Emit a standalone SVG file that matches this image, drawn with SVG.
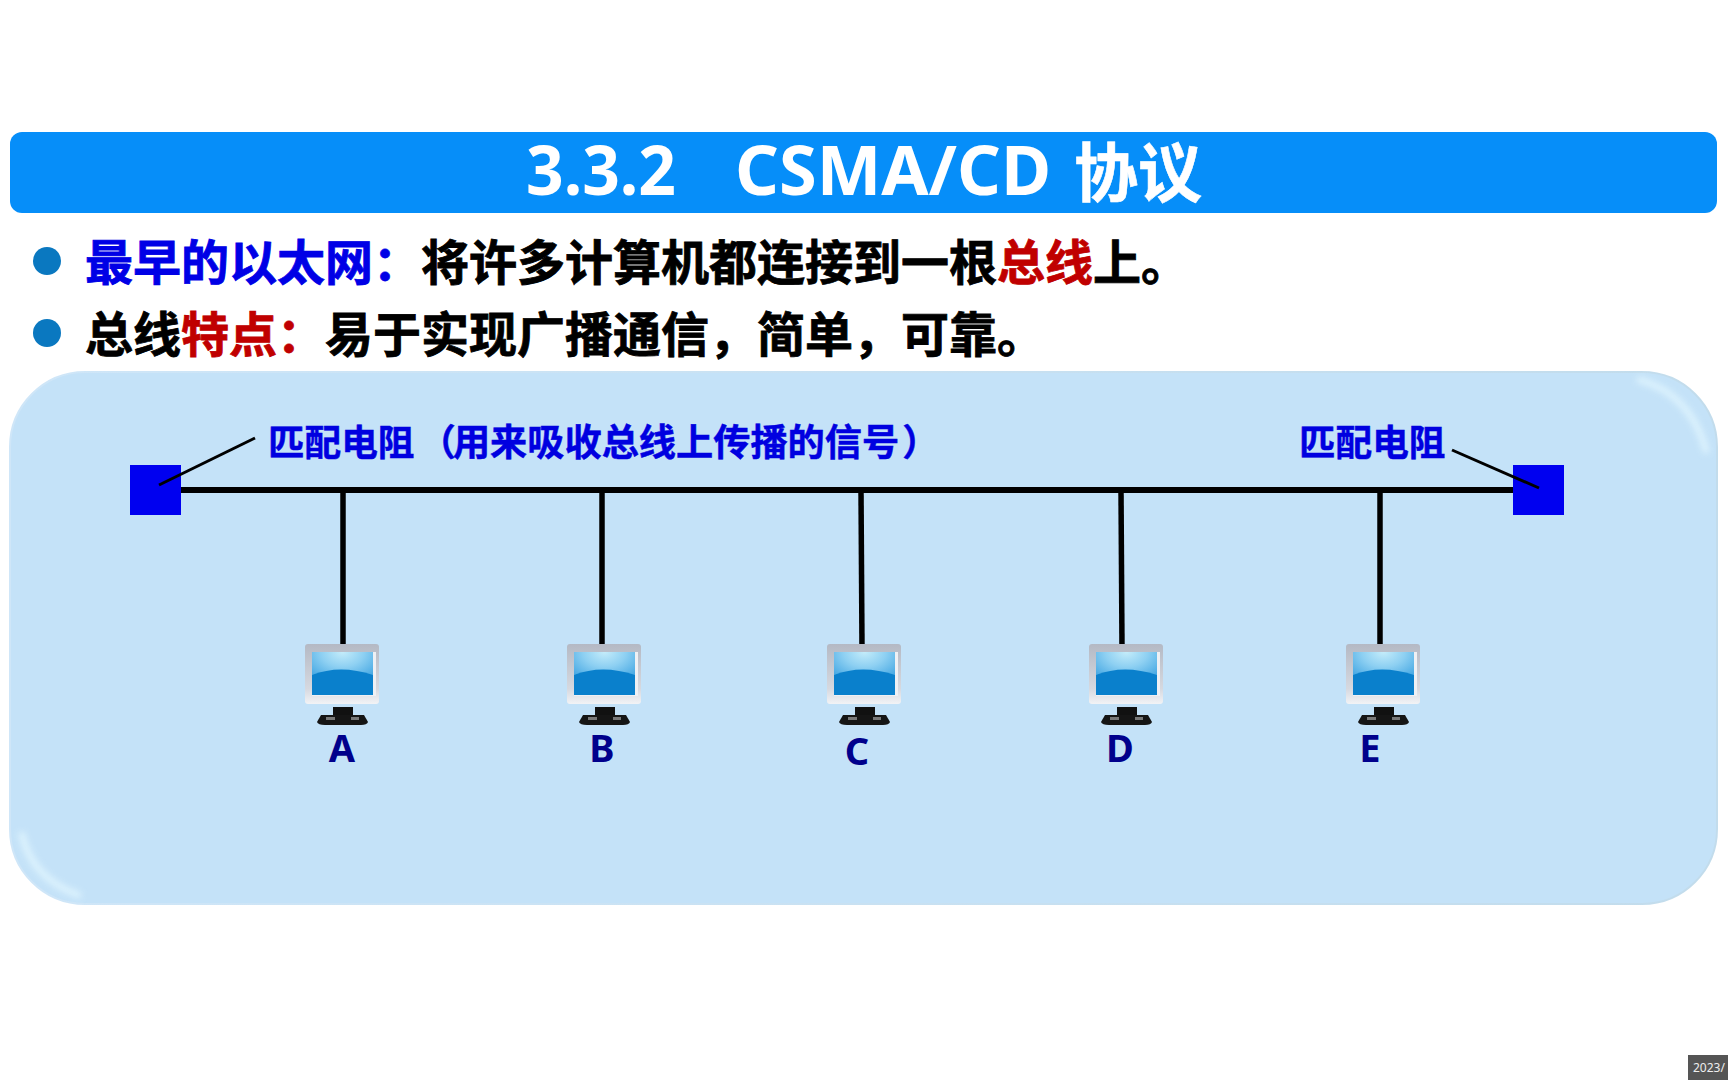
<svg xmlns="http://www.w3.org/2000/svg" xmlns:xlink="http://www.w3.org/1999/xlink" width="1728" height="1080" viewBox="0 0 1728 1080">
<style>
text{font-family:"Noto Sans","Noto Sans CJK SC",sans-serif;font-weight:700}
.cjk{font-family:"Noto Sans CJK SC","Noto Sans",sans-serif}
.ttl{font-size:68px;fill:#fff}
.bul{font-size:48px;fill:#000;stroke:#000;stroke-width:.8px}
.blue{fill:#0000e6;stroke:#0000e6}
.red{fill:#c00000;stroke:#c00000}
.note{font-size:36.6px;fill:#0000e0;stroke:#0000e0;stroke-width:.5px}
.lab{font-size:38px;fill:#00008c;text-anchor:middle}
.drop{stroke:#000;stroke-width:5.5;fill:none}
.bus{stroke:#000;stroke-width:6;fill:none}
.lead{stroke:#000;stroke-width:3;fill:none}
.res{fill:#0000f0}
.glow{fill:none;stroke:#e4f8ff;stroke-linecap:round;opacity:.75}
</style>
<defs>
<filter id="soft" x="-20%" y="-20%" width="140%" height="140%"><feGaussianBlur stdDeviation="3"/></filter>
<linearGradient id="edge" x1="0" y1="0" x2="1" y2="0">
<stop offset="0" stop-color="#cfe6f8"/><stop offset="1" stop-color="#c2dcec"/>
</linearGradient>
<linearGradient id="frame" x1="0" y1="0" x2="0" y2="1">
<stop offset="0" stop-color="#b4b9c4"/><stop offset=".75" stop-color="#d6d9e0"/><stop offset="1" stop-color="#f2f3f6"/>
</linearGradient>
<radialGradient id="glass" cx=".5" cy="0" r=".7">
<stop offset="0" stop-color="#c4ecfa"/><stop offset=".5" stop-color="#8ed0f2"/><stop offset="1" stop-color="#4aaae4"/>
</radialGradient>
<symbol id="pc" viewBox="0 0 74 82" width="74" height="82" overflow="visible">
<rect x="0" y="0" width="74" height="60" rx="3" fill="url(#frame)"/>
<rect x="7" y="8" width="61" height="43" fill="url(#glass)"/>
<path d="M7 31Q35 20 68 31V51H7Z" fill="#0a80cc"/>
<path d="M68 8H71V52H7V51H68Z" fill="#eef0f4"/>
<rect x="28" y="63" width="20" height="9" fill="#111"/>
<path d="M16 71H59L63 78Q62 81 56 81H20Q13 81 12 78Z" fill="#151515"/>
<rect x="21" y="73" width="9" height="3" fill="#777"/>
<rect x="46" y="73" width="8" height="3" fill="#777"/>
</symbol>
</defs>
<rect width="1728" height="1080" fill="#fff"/>
<g id="title">
<rect x="10" y="132" width="1707" height="81" rx="12" fill="#068ef9"/>
<text class="ttl" x="526" y="195" textLength="150" lengthAdjust="spacingAndGlyphs">3.3.2</text>
<text class="ttl" x="735" y="195" textLength="316" lengthAdjust="spacingAndGlyphs">CSMA/CD</text>
<text class="ttl cjk" x="1074" y="196" style="font-size:64px;stroke:#fff;stroke-width:.6px">协议</text>
</g>
<g id="bullets">
<circle cx="47" cy="261" r="14" fill="#0a78c0"/>
<text class="cjk bul" x="85" y="280"><tspan class="blue">最早的以太网：</tspan>将许多计算机都连接到一根<tspan class="red">总线</tspan>上。</text>
<circle cx="47" cy="333" r="14" fill="#0a78c0"/>
<text class="cjk bul" x="85" y="352">总线<tspan class="red">特点：</tspan>易于实现广播通信，简单，可靠。</text>
</g>
<g id="panel-bg">
<rect x="10" y="372" width="1707" height="532" rx="75" fill="#c4e2f8" stroke="url(#edge)" stroke-width="2"/>
<path class="glow" stroke-width="7" filter="url(#soft)" d="M1640 380Q1690 394 1706 450"/>
<path class="glow" stroke-width="7" filter="url(#soft)" d="M22 835Q32 878 78 895"/>
<path class="glow" stroke-width="5" filter="url(#soft)" style="stroke:#cdeeff" d="M85 899H1630"/>
</g>
<g id="connectors">
<path class="bus" d="M155 490H1530"/>
<path class="drop" d="M343 490V646"/>
<path class="drop" d="M602 490V646"/>
<path class="drop" d="M861 490L862 646"/>
<path class="drop" d="M1121 490L1122 646"/>
<path class="drop" d="M1380 490V646"/>
</g>
<g id="resistor-left"><rect class="res" x="130" y="465" width="51" height="50"/></g>
<g id="resistor-right"><rect class="res" x="1513" y="465" width="51" height="50"/></g>
<g id="leaders">
<path class="lead" d="M255 438L159 485"/>
<path class="lead" d="M1452 450L1539 488"/>
</g>
<g id="note-left"><text class="cjk note" x="268" y="456">匹配电阻<tspan dx="5">（</tspan><tspan dx="-3" style="font-size:37.2px">用来吸收总线上传播的信号</tspan><tspan dx="3">）</tspan></text></g>
<g id="note-right"><text class="cjk note" x="1299" y="456">匹配电阻</text></g>
<g id="node-a"><use xlink:href="#pc" href="#pc" x="305" y="644"/><text class="lab" x="342" y="762">A</text></g>
<g id="node-b"><use xlink:href="#pc" href="#pc" x="567" y="644"/><text class="lab" x="602" y="762">B</text></g>
<g id="node-c"><use xlink:href="#pc" href="#pc" x="827" y="644"/><text class="lab" x="857" y="765">C</text></g>
<g id="node-d"><use xlink:href="#pc" href="#pc" x="1089" y="644"/><text class="lab" x="1120" y="762">D</text></g>
<g id="node-e"><use xlink:href="#pc" href="#pc" x="1346" y="644"/><text class="lab" x="1370" y="762">E</text></g>
<g id="stamp">
<rect x="1688" y="1055" width="40" height="25" fill="#555"/>
<text x="1693" y="1072" font-size="12" fill="#eee" style="font-weight:400">2023/</text>
</g>
</svg>
